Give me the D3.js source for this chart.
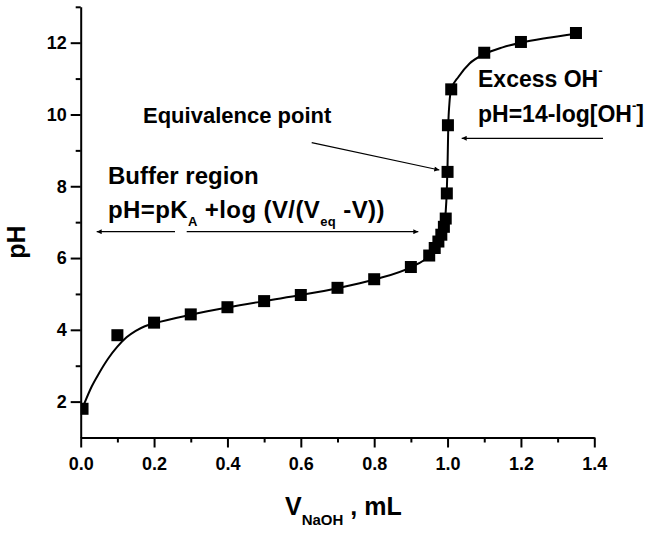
<!DOCTYPE html>
<html>
<head>
<meta charset="utf-8">
<script src="https://cdn.jsdelivr.net/npm/d3@7"></script>
<style>
  body { margin: 0; background: #fff; }
  svg { display: block; font-family: Arial, "Liberation Sans", sans-serif; }
  .axis text { font-size: 18px; font-weight: bold; fill: #000; }
  .axis path, .axis line { stroke: #000; stroke-width: 2; }
  .note { font-weight: bold; fill: #000; }
</style>
</head>
<body>
<script>
// measured titration points
const volume = [0.005, 0.1, 0.2, 0.3, 0.4, 0.5, 0.6, 0.7, 0.8, 0.9, 0.95, 0.965, 0.975, 0.983, 0.99, 0.995, 0.998, 1.0, 1.001, 1.01, 1.1, 1.2, 1.35];
const pH = [1.8, 3.85, 4.2, 4.43, 4.63, 4.8, 4.97, 5.17, 5.41, 5.75, 6.07, 6.28, 6.46, 6.65, 6.87, 7.1, 7.8, 8.4, 9.7, 10.7, 11.72, 12.02, 12.27];

// fitted curve
const fitVolume = [0.01, 0.03, 0.05, 0.075, 0.1, 0.125, 0.15, 0.175, 0.2, 0.3, 0.4, 0.5, 0.6, 0.7, 0.8, 0.9, 0.95, 0.97, 0.98, 0.99, 0.995, 0.998, 1.0, 1.002, 1.005, 1.01, 1.03, 1.06, 1.1, 1.15, 1.2, 1.27, 1.35];
const fitPH = [1.95, 2.42, 2.79, 3.2, 3.53, 3.79, 3.97, 4.1, 4.18, 4.42, 4.62, 4.8, 4.97, 5.16, 5.4, 5.75, 6.07, 6.35, 6.6, 6.95, 7.3, 7.9, 8.6, 9.7, 10.3, 10.7, 11.05, 11.42, 11.68, 11.87, 12.0, 12.13, 12.25];

const xMajor = [0, 0.2, 0.4, 0.6, 0.8, 1.0, 1.2, 1.4];
const xMinor = [0.1, 0.3, 0.5, 0.7, 0.9, 1.1, 1.3];
const yMajor = [2, 4, 6, 8, 10, 12];
const yMinor = [3, 5, 7, 9, 11, 13];

const W = 663, H = 537;
const plot = { left: 80.7, right: 594.3, top: 6.8, bottom: 437.5 };

const svg = d3.select("body").append("svg")
  .attr("width", W)
  .attr("height", H);

const x = d3.scaleLinear().domain([0, 1.4]).range([plot.left, plot.right]);
const y = d3.scaleLinear().domain([1, 13]).range([plot.bottom, plot.top]);

// clip for the markers
svg.append("clipPath").attr("id", "plot")
  .append("rect")
  .attr("x", plot.left).attr("y", plot.top)
  .attr("width", plot.right - plot.left + 20).attr("height", plot.bottom - plot.top);

// arrow head
svg.append("defs").append("marker")
  .attr("id", "head")
  .attr("viewBox", "0 0 10 10")
  .attr("refX", 10).attr("refY", 5)
  .attr("markerWidth", 7).attr("markerHeight", 5)
  .attr("markerUnits", "userSpaceOnUse")
  .attr("orient", "auto")
  .append("path")
  .attr("d", "M0,0L10,5L0,10Z")
  .attr("fill", "#000");

// axes
svg.append("g").attr("class", "axis")
  .attr("transform", `translate(0,${plot.bottom})`)
  .call(d3.axisBottom(x).tickValues(xMajor).tickSize(10).tickPadding(10)
    .tickFormat(d3.format(".1f")).tickSizeOuter(0));

svg.append("g").attr("class", "axis")
  .attr("transform", `translate(0,${plot.bottom})`)
  .call(d3.axisBottom(x).tickValues(xMinor).tickSize(5).tickFormat(""))
  .select(".domain").remove();

svg.append("g").attr("class", "axis")
  .attr("transform", `translate(${plot.left},0)`)
  .call(d3.axisLeft(y).tickValues(yMajor).tickSize(10).tickPadding(4).tickSizeOuter(0));

svg.append("g").attr("class", "axis")
  .attr("transform", `translate(${plot.left},0)`)
  .call(d3.axisLeft(y).tickValues(yMinor).tickSize(5).tickFormat(""))
  .select(".domain").remove();

// axis titles
const xt = svg.append("text")
  .attr("x", 285).attr("y", 515)
  .attr("font-size", 25).attr("font-weight", "bold");
xt.append("tspan").text("V");
xt.append("tspan").attr("font-size", 15).attr("dy", 10).text("NaOH");
xt.append("tspan").attr("dy", -10).text(" , mL");

svg.append("text")
  .attr("transform", "translate(25,242) rotate(-90)")
  .attr("text-anchor", "middle")
  .attr("font-size", 25).attr("font-weight", "bold")
  .text("pH");

// fitted line
const fit = fitVolume.map((v, i) => [v, fitPH[i]]);
svg.append("path")
  .datum(fit)
  .attr("fill", "none")
  .attr("stroke", "#000")
  .attr("stroke-width", 2)
  .attr("d", d3.line().x(d => x(d[0])).y(d => y(d[1])).curve(d3.curveMonotoneX));

// markers
const s = 12;
svg.append("g").attr("clip-path", "url(#plot)")
  .selectAll("rect")
  .data(volume.map((v, i) => [v, pH[i]]))
  .join("rect")
  .attr("x", d => x(d[0]) - s / 2)
  .attr("y", d => y(d[1]) - s / 2)
  .attr("width", s).attr("height", s)
  .attr("fill", "#000");

// annotations
svg.append("text").attr("class", "note")
  .attr("x", 143).attr("y", 123).attr("font-size", 22)
  .text("Equivalence point");

svg.append("text").attr("class", "note")
  .attr("x", 108).attr("y", 184).attr("font-size", 24)
  .text("Buffer region");

const f = svg.append("text").attr("class", "note")
  .attr("x", 108).attr("y", 218).attr("font-size", 24)
  .attr("letter-spacing", 0.4);
f.append("tspan").text("pH=pK");
f.append("tspan").attr("font-size", 13).attr("dy", 8).text("A");
f.append("tspan").attr("dy", -8).text("  +log (V/(V");
f.append("tspan").attr("font-size", 13).attr("dy", 8).text("eq");
f.append("tspan").attr("dy", -8).text("  -V))");

const e = svg.append("text").attr("class", "note")
  .attr("x", 478).attr("y", 87).attr("font-size", 23);
e.append("tspan").text("Excess OH");
e.append("tspan").attr("font-size", 13).attr("dy", -12).text("-");

const g = svg.append("text").attr("class", "note")
  .attr("x", 478).attr("y", 122).attr("font-size", 23);
g.append("tspan").text("pH=14-log[OH");
g.append("tspan").attr("font-size", 13).attr("dy", -12).text("-");
g.append("tspan").attr("dy", 12).text("]");

// arrows
const arrows = [
  [[311.7, 142.7], [439.3, 170]],
  [[175, 231.7], [96.7, 231.7]],
  [[186.7, 231.7], [418.3, 231.7]],
  [[603, 138.3], [461.7, 138.3]]
];
svg.append("g").selectAll("line")
  .data(arrows)
  .join("line")
  .attr("x1", d => d[0][0]).attr("y1", d => d[0][1])
  .attr("x2", d => d[1][0]).attr("y2", d => d[1][1])
  .attr("stroke", "#000")
  .attr("stroke-width", 1.2)
  .attr("marker-end", "url(#head)");
</script>
</body>
</html>
